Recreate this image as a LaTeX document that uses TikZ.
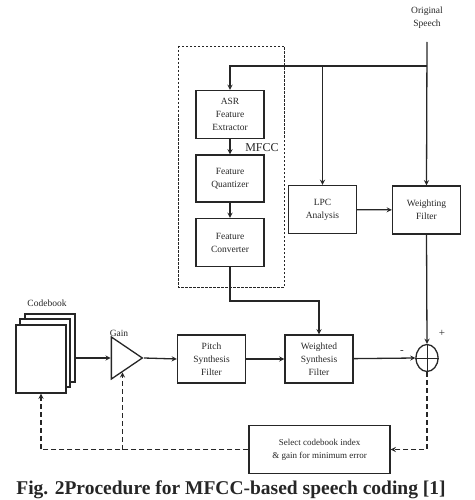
\documentclass[tikz,border=0pt]{standalone}
\usepackage{fontspec}
\setmainfont{Liberation Serif}
\usetikzlibrary{shapes.geometric,positioning}
\tikzset{
  blk/.style={draw,minimum width=68pt,minimum height=48pt,align=center,
    inner sep=1pt,font=\fontsize{9.5}{13}\selectfont},
  sheet/.style={draw,fill=white,minimum width=50pt,minimum height=68pt},
  lbl/.style={align=center,font=\fontsize{9.5}{13}\selectfont},
  fb/.style={dash pattern=on 5pt off 3pt},
}
\begin{document}
\begin{tikzpicture}[x=1pt,y=-1pt,>=stealth,line width=1.3pt,color=black!85]
\useasboundingbox (0,0) rectangle (474,500);

% speech input
\node[lbl] (orig) at (427,18) {Original\\Speech};
\coordinate (top) at (427,42);
\coordinate (split) at (427,66);

% MFCC front end
\draw[dash pattern=on 2.5pt off 1.5pt,line width=0.9pt] (178,46) rectangle (284,287);
\node[blk] (asr) at (230,114.5) {ASR\\Feature\\Extractor};
\node[blk,minimum height=47pt] (quant) at (230,178.5) {Feature\\Quantizer};
\node[blk] (conv) at (230,242.5) {Feature\\Converter};
\node[font=\fontsize{12}{14}\selectfont] (mfcc) at (262,148) {MFCC};

\node[blk] (lpc) at (322.5,209.5) {LPC\\Analysis};
\node[blk] (wf) at (426.5,210) {Weighting\\Filter};

% codebook and gain
\node[sheet] (cb3) at (50,348) {};
\node[sheet] (cb2) at (45,353) {};
\node[sheet] (cb) at (41,359) {};
\node[lbl] (cblab) at (47,303) {Codebook};
\node[draw,isosceles triangle,isosceles triangle stretches,minimum width=42pt,
  minimum height=31pt,inner sep=0pt] (gain) at (122.5,358) {};
\node[lbl] (gainlab) at (119,333) {Gain};

\node[blk] (psf) at (211.5,359) {Pitch\\Synthesis\\Filter};
\node[blk] (wsf) at (319,359) {Weighted\\Synthesis\\Filter};
\node[draw,ellipse,minimum width=22pt,minimum height=27pt,inner sep=0pt] (sum) at (427,358) {};
\draw[line width=0.8pt] (sum.north) -- (sum.south) (sum.west) -- (sum.east);
\node[font=\fontsize{11}{12}\selectfont] (plus) at (442,333) {+};
\node[font=\fontsize{11}{12}\selectfont] (minus) at (402,352) {-};

\node[blk,minimum width=141pt,font=\fontsize{9}{13}\selectfont] (sel) at (319.5,449.5)
  {Select codebook index\\\& gain for minimum error};

% signal path
\draw[->] (top) -- (wf.north);
\draw[->] (split) -| (asr.north);
\draw[->] (lpc.north |- split) -- (lpc.north);
\draw[->] (lpc) -- (wf);
\draw[->] (asr) -- (quant);
\draw[->] (quant) -- (conv);
\coordinate (bend) at (230,301);
\draw[->] (conv.south) -- (bend) -| (wsf.north);
\draw[->] (wf.south) -- (sum.north);
\draw[->] (cb3.east |- gain.west) -- (gain.west);
\draw[->] (gain.apex) -- (psf.west);
\draw[->] (psf) -- (wsf);
\draw[->] (wsf) -- (sum.west);

% error feedback
\coordinate (fbr) at (427,449.5);
\draw[fb,->] (sum.south) -- (fbr) -- (sel.east);
\draw[fb,->] (sel.west) -| (cb.south);
\draw[fb,->] (sel.west -| gain.south) -- (gain.south);

\node[font=\bfseries\fontsize{19.5}{23}\selectfont,anchor=base] (cap) at (231,494.5)
  {Fig. 2Procedure for MFCC-based speech coding [1]};
\end{tikzpicture}
\end{document}
